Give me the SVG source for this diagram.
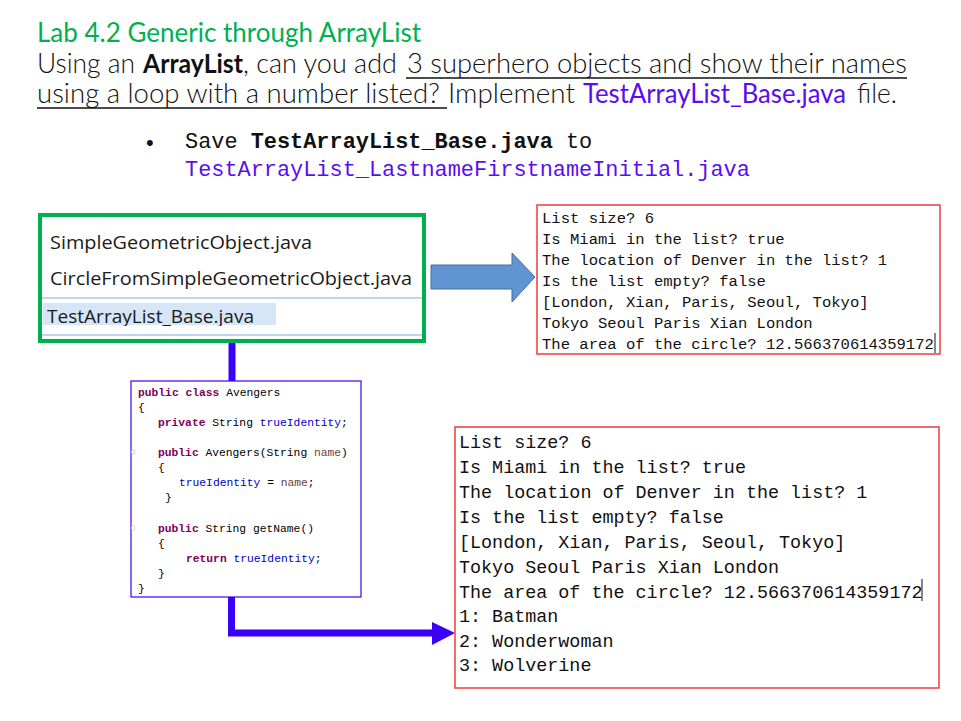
<svg xmlns="http://www.w3.org/2000/svg" width="961" height="721" viewBox="0 0 961 721">
<defs>
<style>
.hdr{font-family:Lato,"Open Sans","Liberation Sans",sans-serif;font-size:27px;font-weight:300;fill:#111}
.mono{font-family:"Liberation Mono","DejaVu Sans Mono",monospace}
.file{font-family:"Open Sans","Noto Sans","Liberation Sans",sans-serif;font-size:19px;fill:#1a1a1a}
.out1{font-family:"Liberation Mono",monospace;font-size:15.55px;fill:#111}
.out2{font-family:"Liberation Mono",monospace;font-size:18.4px;fill:#111}
.code{font-family:"Liberation Mono",monospace;font-size:11.3px;fill:#000}
.kw{fill:#7F0055;font-weight:bold}
.fld{fill:#0000C0}
.par{fill:#6A3E3E}
.redbox{fill:#fff;stroke:#F04848;stroke-width:1.6}
.conn{fill:none;stroke:#3A00F8;stroke-width:7}
</style>
<clipPath id="clipBase"><rect x="40" y="300" width="380" height="26"/></clipPath>
</defs>
<rect width="961" height="721" fill="#fff"/>

<g id="header">
<text class="hdr" x="37" y="42" style="fill:#00B050;font-weight:400" textLength="384" lengthAdjust="spacingAndGlyphs">Lab 4.2 Generic through ArrayList</text>
<text class="hdr" x="37" y="73" textLength="98" lengthAdjust="spacingAndGlyphs">Using an</text>
<text class="hdr" x="143" y="73" style="font-weight:bold" textLength="100" lengthAdjust="spacingAndGlyphs">ArrayList</text>
<text class="hdr" x="243" y="73" textLength="154" lengthAdjust="spacingAndGlyphs">, can you add</text>
<text class="hdr" x="407" y="73" textLength="500" lengthAdjust="spacingAndGlyphs">3 superhero objects and show their names</text>
<line x1="406" y1="78" x2="907" y2="78" stroke="#111" stroke-width="1.5"/>
<text class="hdr" x="37" y="103" textLength="403" lengthAdjust="spacingAndGlyphs">using a loop with a number listed?</text>
<line x1="37" y1="108" x2="447" y2="108" stroke="#111" stroke-width="1.5"/>
<text class="hdr" x="448" y="103" textLength="127" lengthAdjust="spacingAndGlyphs">Implement</text>
<text class="hdr" x="583" y="103" style="fill:#5A0CF2;font-weight:400" textLength="263" lengthAdjust="spacingAndGlyphs">TestArrayList_Base.java</text>
<text class="hdr" x="857" y="103" textLength="40" lengthAdjust="spacingAndGlyphs">file.</text>
<text x="146" y="150" font-family="Liberation Sans,sans-serif" font-size="22" fill="#111">•</text>
<text class="mono" x="185" y="148" font-size="21.9" fill="#111">Save <tspan font-weight="bold">TestArrayList_Base.java</tspan> to</text>
<text class="mono" x="185" y="176" font-size="21.9" fill="#5A0CF2">TestArrayList_LastnameFirstnameInitial.java</text>
</g>

<g id="connectors">
<polygon points="431,265 512,265 512,253 535,277 512,302 512,289 431,289" fill="#6194D2" stroke="#41719C" stroke-width="1"/>
<line class="conn" x1="232" y1="342" x2="232" y2="381" stroke-width="6"/>
<polyline class="conn" points="231.5,597 231.5,633 434,633"/>
<polygon points="432,622 455,633 432,645" fill="#3A00F8"/>
</g>

<g id="files">
<rect x="40" y="215" width="384" height="126" fill="#fff" stroke="#00B050" stroke-width="4"/>
<text class="file" x="50" y="249" textLength="262" lengthAdjust="spacingAndGlyphs">SimpleGeometricObject.java</text>
<text class="file" x="50" y="285" textLength="362" lengthAdjust="spacingAndGlyphs">CircleFromSimpleGeometricObject.java</text>
<line x1="42" y1="298" x2="422" y2="298" stroke="#A9C9E9" stroke-width="1.5"/>
<rect x="43" y="303" width="233" height="22" fill="#D6E6F7"/>
<text class="file" x="47" y="323" clip-path="url(#clipBase)" textLength="207" lengthAdjust="spacingAndGlyphs">TestArrayList_Base.java</text>
<line x1="42" y1="335" x2="422" y2="335" stroke="#A9C9E9" stroke-width="1.5"/>
</g>

<g id="output1">
<rect class="redbox" x="537" y="205" width="403" height="149"/>
<text class="out1" x="542" y="223">List size? 6</text>
<text class="out1" x="542" y="244">Is Miami in the list? true</text>
<text class="out1" x="542" y="265">The location of Denver in the list? 1</text>
<text class="out1" x="542" y="286">Is the list empty? false</text>
<text class="out1" x="542" y="307">[London, Xian, Paris, Seoul, Tokyo]</text>
<text class="out1" x="542" y="328">Tokyo Seoul Paris Xian London</text>
<text class="out1" x="542" y="349">The area of the circle? 12.566370614359172</text>
<line x1="935" y1="333" x2="935" y2="353" stroke="#111" stroke-width="1"/>
</g>

<g id="avengers">
<rect x="131" y="381" width="230" height="216" fill="#fff" stroke="#3A00F8" stroke-width="1.2"/>
<circle cx="133" cy="452" r="2" fill="none" stroke="#c8c8d8" stroke-width="0.8"/>
<circle cx="133" cy="528" r="2" fill="none" stroke="#c8c8d8" stroke-width="0.8"/>
<text class="code" x="138" y="396"><tspan class="kw">public class</tspan> Avengers</text>
<text class="code" x="138" y="411">{</text>
<text class="code" x="158" y="426"><tspan class="kw">private</tspan> String <tspan class="fld">trueIdentity</tspan>;</text>
<text class="code" x="158" y="456"><tspan class="kw">public</tspan> Avengers(String <tspan class="par">name</tspan>)</text>
<text class="code" x="158" y="471">{</text>
<text class="code" x="179" y="486"><tspan class="fld">trueIdentity</tspan> = <tspan class="par">name</tspan>;</text>
<text class="code" x="165" y="501">}</text>
<text class="code" x="158" y="532"><tspan class="kw">public</tspan> String getName()</text>
<text class="code" x="158" y="547">{</text>
<text class="code" x="186" y="562"><tspan class="kw">return</tspan> <tspan class="fld">trueIdentity</tspan>;</text>
<text class="code" x="158" y="577">}</text>
<text class="code" x="138" y="592">}</text>
</g>

<g id="output2">
<rect class="redbox" x="455" y="427" width="484" height="261"/>
<text class="out2" x="459" y="448">List size? 6</text>
<text class="out2" x="459" y="473">Is Miami in the list? true</text>
<text class="out2" x="459" y="498">The location of Denver in the list? 1</text>
<text class="out2" x="459" y="523">Is the list empty? false</text>
<text class="out2" x="459" y="548">[London, Xian, Paris, Seoul, Tokyo]</text>
<text class="out2" x="459" y="573">Tokyo Seoul Paris Xian London</text>
<text class="out2" x="459" y="598">The area of the circle? 12.566370614359172</text>
<text class="out2" x="459" y="622">1: Batman</text>
<text class="out2" x="459" y="647">2: Wonderwoman</text>
<text class="out2" x="459" y="671">3: Wolverine</text>
<line x1="922" y1="579" x2="922" y2="601" stroke="#111" stroke-width="1"/>
</g>
</svg>
